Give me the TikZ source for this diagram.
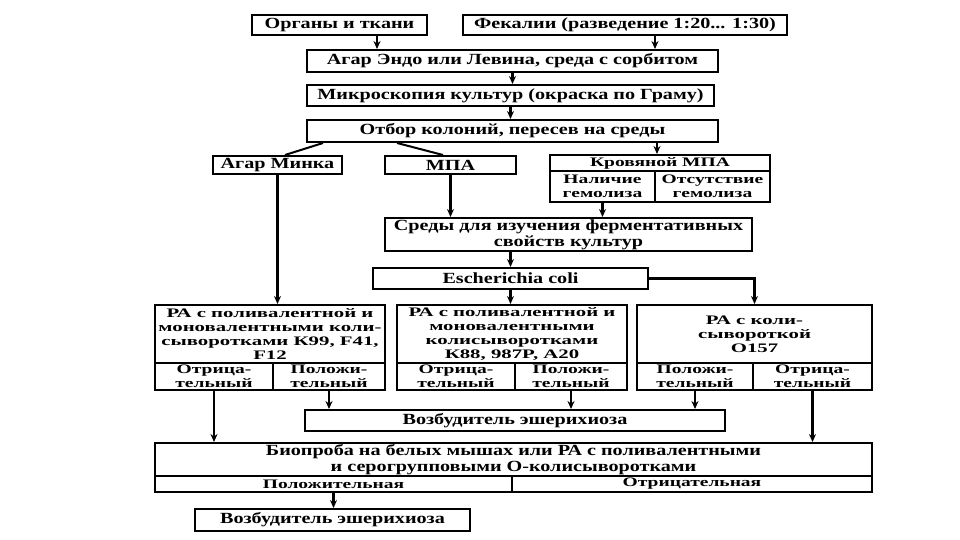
\documentclass[tikz,border=0pt]{standalone}
\usepackage{fontspec}
\setmainfont{Liberation Serif}[FakeStretch=1.3]
\newfontfamily\rafont{Liberation Serif}[FakeStretch=1.6]
\newfontfamily\subfont{Liberation Serif}[FakeStretch=1.5]
\usetikzlibrary{arrows.meta}

\tikzset{
  box/.style={draw, line width=2pt, inner sep=0pt, align=center,
    font=\bfseries\fontsize{15.5}{16}\selectfont},
  small/.style={font=\subfont\bfseries\fontsize{13}{14}\selectfont},
  ratext/.style={font=\rafont\bfseries\fontsize{13}{14}\selectfont},
  arr/.style={line width=2.2pt, -{Stealth[length=8pt,width=7pt]}},
  link/.style={line width=2pt},
}

\begin{document}
\begin{tikzpicture}[x=1pt,y=-1pt]

    \useasboundingbox (0,0) rectangle (960,540);

    % upper part
    \draw(339.5,25) node[box, minimum width=175pt, minimum height=20pt] (organs) {Органы и ткани};
    \draw(625,25) node[box, minimum width=324pt, minimum height=20pt] (feces) {Фекалии (разведение 1:20... 1:30)};
    \draw(512.5,61) node[box, minimum width=411pt, minimum height=22pt] (endo) {Агар Эндо или Левина, среда с сорбитом};
    \draw(510.5,95.5) node[box, minimum width=407pt, minimum height=21pt] (micro) {Микроскопия культур (окраска по Граму)};
    \draw(512.5,131) node[box, minimum width=411pt, minimum height=22pt] (otbor) {Отбор колоний, пересев на среды};

    % media
    \draw(277.5,165) node[box, minimum width=129pt, minimum height=18pt] (minka) {Агар Минка};
    \draw(450.5,165) node[box, minimum width=131pt, minimum height=18pt] (mpa) {МПА};
    \draw(660,163) node[box, small, minimum width=220pt, minimum height=16pt] (krov) {Кровяной МПА};
    \draw(602.5,186.5) node[box, small, minimum width=105pt, minimum height=31pt] (nal) {Наличие\\гемолиза};
    \draw(712.5,186.5) node[box, small, minimum width=115pt, minimum height=31pt] (ots) {Отсутствие\\гемолиза};

    \draw(568.5,234.5) node[box, minimum width=367pt, minimum height=33pt] (sredy) {Среды для изучения ферментативных\\свойств культур};
    \draw(510.5,278.5) node[box, minimum width=275pt, minimum height=21pt] (ecoli) {Escherichia coli};

    % agglutination
    \draw(270,334) node[box, ratext, minimum width=230pt, minimum height=58pt] (ra1) {РА с поливалентной и\\моновалентными коли-\\сыворотками К99, F41,\\F12};
    \draw(214,376.5) node[box, small, minimum width=118pt, minimum height=27pt] (neg1) {Отрица-\\тельный};
    \draw(329,376.5) node[box, small, minimum width=112pt, minimum height=27pt] (pos1) {Положи-\\тельный};

    \draw(512,334) node[box, ratext, minimum width=230pt, minimum height=58pt] (ra2) {РА с поливалентной и\\моновалентными\\колисыворотками\\К88, 987P, A20};
    \draw(456,376.5) node[box, small, minimum width=118pt, minimum height=27pt] (neg2) {Отрица-\\тельный};
    \draw(571,376.5) node[box, small, minimum width=112pt, minimum height=27pt] (pos2) {Положи-\\тельный};

    \draw(754.5,334) node[box, ratext, minimum width=235pt, minimum height=58pt] (ra3) {РА с коли-\\сывороткой\\O157};
    \draw(695,376.5) node[box, small, minimum width=116pt, minimum height=27pt] (pos3) {Положи-\\тельный};
    \draw(812.5,376.5) node[box, small, minimum width=119pt, minimum height=27pt] (neg3) {Отрица-\\тельный};

    \draw(515,420.5) node[box, minimum width=420pt, minimum height=21pt] (vozb) {Возбудитель эшерихиоза};

    % bioassay
    \draw(513.5,459.5) node[box, minimum width=717pt, minimum height=33pt] (bio) {Биопроба на белых мышах или РА с поливалентными\\и серогрупповыми О-колисыворотками};
    \draw(333.5,484) node[box, small, minimum width=357pt, minimum height=16pt] (bpos) {Положительная};
    \draw(692,484) node[box, small, minimum width=360pt, minimum height=16pt] (bneg) {Отрицательная};

    \draw(332.5,520) node[box, minimum width=275pt, minimum height=22pt] (final) {Возбудитель эшерихиоза};

    % connectors
    \coordinate (o1) at ([xshift=37.5pt]organs.south);
    \coordinate (f1) at ([xshift=30pt]feces.south);
    \coordinate (k1) at ([xshift=144.5pt]otbor.south);
    \draw[arr] (o1) -- (o1 |- endo.north);
    \draw[arr] (f1) -- (f1 |- endo.north);
    \draw[arr] (endo.south) -- (endo.south |- micro.north);
    \draw[arr] (micro.south) -- (micro.south |- otbor.north);
    \draw[link] ([xshift=-189.5pt]otbor.south) -- ([xshift=7.5pt]minka.north);
    \draw[link] ([xshift=-115.5pt]otbor.south) -- ([xshift=-7.5pt]mpa.north);
    \draw[arr] (k1) -- (k1 |- krov.north);

    \draw[arr] (minka.south) -- (minka.south |- ra1.north);
    \draw[arr] (mpa.south) -- (mpa.south |- sredy.north);
    \draw[arr] (nal.south) -- (nal.south |- sredy.north);
    \draw[arr] (ecoli.north |- sredy.south) -- (ecoli.north);
    \draw[arr] (ecoli.south) -- (ecoli.south |- ra2.north);
    \draw[arr] (ecoli.east) -| (ra3.north);

    \draw[arr] (pos1.south) -- (pos1.south |- vozb.north);
    \draw[arr] (pos2.south) -- (pos2.south |- vozb.north);
    \draw[arr] (pos3.south) -- (pos3.south |- vozb.north);
    \draw[arr] (neg1.south) -- (neg1.south |- bio.north);
    \draw[arr] (neg3.south) -- (neg3.south |- bio.north);
    \draw[arr] (bpos.south) -- (bpos.south |- final.north);

    \end{tikzpicture}
\end{document}
